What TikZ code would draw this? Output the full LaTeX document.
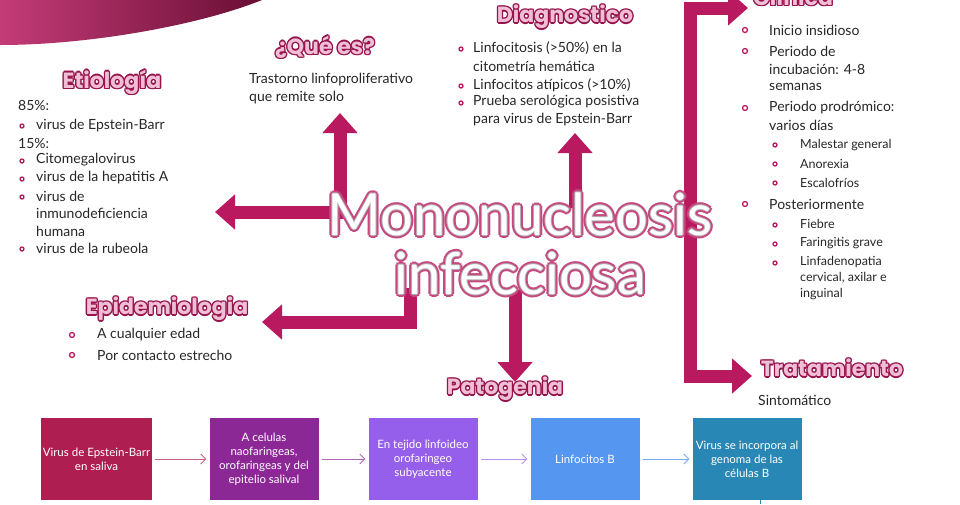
\documentclass[tikz,border=0pt]{standalone}
\usepackage{fontspec}
\setmainfont{Lato}
\newfontfamily\hf{Poppins}
\usetikzlibrary{arrows.meta,calc}
\definecolor{mag}{RGB}{185,25,95}
\definecolor{magd}{RGB}{150,20,75}
\definecolor{pk}{RGB}{240,190,215}
\definecolor{bA}{RGB}{175,30,80}
\definecolor{bB}{RGB}{140,40,150}
\definecolor{bC}{RGB}{150,95,235}
\definecolor{bD}{RGB}{85,150,240}
\definecolor{bE}{RGB}{40,135,180}
\tikzset{
 bigarrow/.style={draw=mag,line width=13pt,-{Triangle[width=34pt,length=20pt]}},
 txt/.style={anchor=west,inner sep=0,font=\fontsize{14}{16}\selectfont,text=black!85},
 smalltxt/.style={anchor=west,inner sep=0,font=\fontsize{12.5}{14}\selectfont,text=black!85},
 bul/.style={circle,draw=mag,line width=1.3pt,minimum size=5pt,inner sep=0},
 headg/.style={inner sep=0,font=\hf\bfseries\fontsize{22}{24}\selectfont},
 titleg/.style={inner sep=0,font=\fontsize{58}{60}\selectfont},
 pbox/.style={minimum width=109pt,minimum height=82pt,text=white,align=center,inner sep=2pt,font=\fontsize{11.5}{14}\selectfont},
 parr/.style={draw=gray!70,line width=0.8pt,-{Straight Barb[length=5pt,width=10pt]}}
}
\newcommand{\glowhead}[4]{%
 \foreach \dx/\dy in {-1.3/0,1.3/0,0/-1.3,0/1.3,-1/-1,1/1,-1/1,1/-1}{\node[headg,text=magd] at ($(#1,#2)+(\dx,\dy)$) {#4};}
 \node[headg,text=pk] (#3) at (#1,#2) {#4};}
\newcommand{\glowtitle}[4]{%
 \foreach \dx/\dy in {-3/0,3/0,0/-3,0/3,-2/-2,2/2,-2/2,2/-2}{\node[titleg,text=mag!80] at ($(#1,#2)+(\dx,\dy)$) {#4};}
 \foreach \dx/\dy in {-1/0,1/0,0/-1,0/1}{\node[titleg,text=gray!60] at ($(#1,#2)+(\dx,\dy)$) {#4};}
 \node[titleg,text=white] (#3) at (#1,#2) {#4};}
\begin{document}
\begin{tikzpicture}[x=1pt,y=-1pt]
\useasboundingbox (0,0) rectangle (960,504);
% swoosh
\shade[left color=mag!85!white,right color=magd!70!black] (0,0) -- (262,0) .. controls (200,25) and (90,45) .. (0,45) -- cycle;
% arrows
\coordinate (cq) at (340,212);
\coordinate (tq) at (340,113);
\coordinate (te) at (215,212);
\draw[bigarrow] (cq) -- (tq);
\draw[bigarrow] ($(cq)+(6.5,0)$) -- (te);
\coordinate (dq) at (575,208);
\coordinate (td) at (575,133);
\draw[bigarrow] (dq) -- (td);
\coordinate (vt) at (690,8);
\coordinate (tc) at (748,8);
\coordinate (tt) at (752,376);
\draw[bigarrow] (690,376) -- (vt) -- (tc);
\draw[bigarrow] (690,12) -- (690,376) -- (tt);
\coordinate (ep) at (410,288);
\coordinate (tep) at (262,322);
\draw[bigarrow] (ep) -- (410,322) -- (tep);
\coordinate (pa) at (515,290);
\coordinate (tpa) at (515,382);
\draw[bigarrow] (pa) -- (tpa);
% title
\glowtitle{520}{214}{t1}{Mononucleosis}
\glowtitle{520}{274}{t2}{infecciosa}
% headings
\glowhead{112}{82}{hE}{Etiología}
\glowhead{325}{47}{hQ}{¿Qué es?}
\glowhead{565}{17}{hD}{Diagnostico}
\glowhead{793}{-4}{hC}{Clínica}
\glowhead{167}{309}{hP}{Epidemiologia}
\glowhead{832}{368}{hT}{Tratamiento}
\glowhead{505}{389}{hPa}{Patogenia}
% Etiologia
\node[txt] (e1) at (18,105) {85\%:};
\node[bul,scale=.8] (eb1) at (22,126) {}; \node[txt] at (36,126) {virus de Epstein-Barr};
\node[txt] at (18,143) {15\%:};
\node[bul,scale=.8] at (22,161) {}; \node[txt] at (36,160) {Citomegalovirus};
\node[bul,scale=.8] at (22,179) {}; \node[txt] at (36,178) {virus de la hepatitis A};
\node[bul,scale=.8] at (22,197) {}; \node[txt] at (36,196) {virus de};
\node[txt] at (36,213) {inmunodeficiencia};
\node[txt] at (36,231) {humana};
\node[bul,scale=.8] at (22,249) {}; \node[txt] at (36,248) {virus de la rubeola};
% Que es
\node[txt] (q1) at (249,80) {Trastorno linfoproliferativo};
\node[txt] at (249,98) {que remite solo};
% Diagnostico
\node[bul,scale=.8] at (461,49) {}; \node[txt] at (473,48) {Linfocitosis (>50\%) en la};
\node[txt] at (473,66) {citometría hemática};
\node[bul,scale=.8] at (461,86) {}; \node[txt] at (473,85) {Linfocitos atípicos (>10\%)};
\node[bul,scale=.8] at (461,103) {}; \node[txt] at (473,102) {Prueba serológica posistiva};
\node[txt] at (473,120) {para virus de Epstein-Barr};
% Clinica
\node[bul] at (745,30) {}; \node[txt] at (769,30) {Inicio insidioso};
\node[bul] at (745,51) {}; \node[txt] at (769,51) {Periodo de};
\node[txt] at (769,69) {incubación: 4-8};
\node[txt] at (769,87) {semanas};
\node[bul] at (745,108) {}; \node[txt] at (769,108) {Periodo prodrómico:};
\node[txt] at (769,125) {varios días};
\node[bul,scale=.8] at (775,145) {}; \node[smalltxt] at (800,145) {Malestar general};
\node[bul,scale=.8] at (775,164) {}; \node[smalltxt] at (800,164) {Anorexia};
\node[bul,scale=.8] at (775,183) {}; \node[smalltxt] at (800,183) {Escalofríos};
\node[bul] at (745,204) {}; \node[txt] at (769,204) {Posteriormente};
\node[bul,scale=.8] at (775,225) {}; \node[smalltxt] at (800,224) {Fiebre};
\node[bul,scale=.8] at (775,244) {}; \node[smalltxt] at (800,243) {Faringitis grave};
\node[bul,scale=.8] at (775,263) {}; \node[smalltxt] at (800,262) {Linfadenopatia};
\node[smalltxt] at (800,278) {cervical, axilar e};
\node[smalltxt] at (800,294) {inguinal};
% Epidemiologia
\node[bul] at (72,335) {}; \node[txt] at (97,335) {A cualquier edad};
\node[bul] at (72,355) {}; \node[txt] at (97,355) {Por contacto estrecho};
% Tratamiento
\node[txt] (s1) at (758,400) {Sintomático};
% Patogenia boxes
\node[pbox,fill=bA] (p1) at (96.5,459) {Virus de Epstein-Barr\\en saliva};
\node[pbox,fill=bB] (p2) at (264,459) {A celulas\\naofaringeas,\\orofaringeas y del\\epitelio salival};
\node[pbox,fill=bC] (p3) at (423,459) {En tejido linfoideo\\orofaringeo\\subyacente};
\node[pbox,fill=bD] (p4) at (585,459) {Linfocitos B};
\node[pbox,fill=bE] (p5) at (747,459) {Virus se incorpora al\\genoma de las\\células B};
\draw[parr,draw=bA!70] ($(p1.east)+(3,0)$) -- ($(p2.west)+(-3,0)$);
\draw[parr,draw=bB!70] ($(p2.east)+(3,0)$) -- ($(p3.west)+(-3,0)$);
\draw[parr,draw=bC!70] ($(p3.east)+(3,0)$) -- ($(p4.west)+(-3,0)$);
\draw[parr,draw=bD!80] ($(p4.east)+(3,0)$) -- ($(p5.west)+(-3,0)$);
\coordinate (pend) at (760,504);
\draw[draw=bE,line width=0.8pt] (p5.south -| pend) -- (pend);
\end{tikzpicture}
\end{document}
